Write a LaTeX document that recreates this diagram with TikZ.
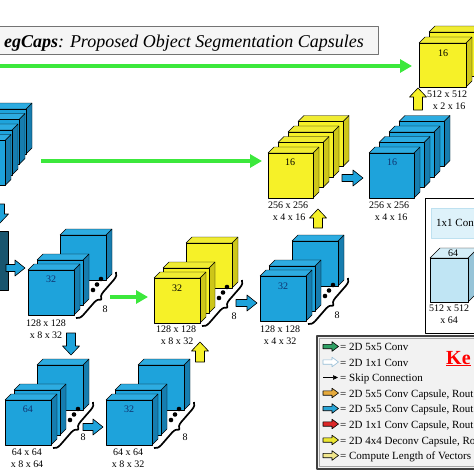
\documentclass[tikz,border=0pt]{standalone}
\usepackage{fontspec}
\setmainfont{Liberation Serif}
\usetikzlibrary{arrows.meta,decorations.pathreplacing}
\definecolor{cgreen}{RGB}{60,232,60}
\definecolor{bluefront}{RGB}{30,163,219}
\definecolor{bluetop}{RGB}{45,172,225}
\definecolor{blueside}{RGB}{22,125,175}
\definecolor{yelfront}{RGB}{246,241,40}
\definecolor{yeltop}{RGB}{240,236,50}
\definecolor{yelside}{RGB}{205,198,25}
\definecolor{lbfront}{RGB}{192,229,244}
\definecolor{lbtop}{RGB}{213,238,248}
\definecolor{lbside}{RGB}{150,196,216}
\definecolor{darkcube}{RGB}{25,85,110}
\definecolor{numblue}{RGB}{15,50,110}
\definecolor{kgreen}{RGB}{46,160,100}
\definecolor{korange}{RGB}{230,170,60}
\definecolor{kblue}{RGB}{40,165,215}
\definecolor{kred}{RGB}{220,40,40}
\definecolor{kyellow}{RGB}{235,230,50}
\definecolor{kpale}{RGB}{240,230,140}
\definecolor{klight}{RGB}{150,190,215}
\definecolor{conbox}{RGB}{222,242,250}
\definecolor{conboxline}{RGB}{190,225,240}

% cube: x, y (front top-left), w, h, depth, colour prefix
\newcommand{\mycube}[6]{%
  \filldraw[fill=#6side] ({#1+#3},{#2}) -- ++(#5,-#5) -- ++(0,#4) -- ++(-#5,#5) -- cycle;
  \filldraw[fill=#6top] ({#1},{#2}) -- ++(#5,-#5) -- ++(#3,0) -- ++(-#5,#5) -- cycle;
  \filldraw[fill=#6front] ({#1},{#2}) rectangle ++(#3,#4);
}
% stack of four cubes, front cube at x,y
\newcommand{\fourstack}[3]{%
  \foreach \i in {3,2,1,0} {\mycube{#1+10*\i}{#2-10.5*\i}{45}{45}{6}{#3}}
}
% front pair + back cube with dots and brace
\newcommand{\threestack}[3]{%
  \mycube{#1+32}{#2-35}{46}{45}{6}{#3}
  \mycube{#1+9}{#2-10}{46}{45}{6}{#3}
  \mycube{#1}{#2}{46}{45}{6}{#3}
  \fill ({#1+65},{#2+20}) circle[radius=2.3pt];
  \fill ({#1+69},{#2+14.5}) circle[radius=2.3pt];
  \fill ({#1+73},{#2+9}) circle[radius=2.3pt];
  \draw[decorate,decoration={brace,amplitude=7pt,mirror},line width=1.7pt] ({#1+48},{#2+48}) -- ({#1+88},{#2+2});
}
% block arrows
\newcommand{\rarrow}[4]{%
  \filldraw[fill=#4,line width=0.6pt] ({#1},{#3-3.5}) -- ({#2-10},{#3-3.5}) -- ({#2-10},{#3-8}) -- ({#2},{#3}) -- ({#2-10},{#3+8}) -- ({#2-10},{#3+3.5}) -- ({#1},{#3+3.5}) -- cycle;
}
\newcommand{\uarrow}[4]{% x, ybottom, ytop
  \filldraw[fill=#4,line width=0.6pt] ({#1-4.5},{#2}) -- ({#1-4.5},{#3+9}) -- ({#1-8.5},{#3+9}) -- ({#1},{#3}) -- ({#1+8.5},{#3+9}) -- ({#1+4.5},{#3+9}) -- ({#1+4.5},{#2}) -- cycle;
}
\newcommand{\darrow}[4]{% x, ytop, ybottom
  \filldraw[fill=#4,line width=0.6pt] ({#1-4.5},{#2}) -- ({#1-4.5},{#3-9}) -- ({#1-8.5},{#3-9}) -- ({#1},{#3}) -- ({#1+8.5},{#3-9}) -- ({#1+4.5},{#3-9}) -- ({#1+4.5},{#2}) -- cycle;
}
\newcommand{\karrow}[3]{% y, fill, draw
  \filldraw[fill=#2,draw=#3,line width=0.6pt] (323,{#1-2.2}) -- (332,{#1-2.2}) -- (332,{#1-4.8}) -- (338.5,{#1}) -- (332,{#1+4.8}) -- (332,{#1+2.2}) -- (323,{#1+2.2}) -- cycle;
}

\tikzset{
  lbl/.style={font=\fontsize{10}{12}\selectfont,inner sep=0pt},
  num/.style={font=\fontsize{10}{12}\selectfont,inner sep=0pt},
  keytxt/.style={font=\fontsize{11}{13}\selectfont,anchor=base west,inner sep=0pt},
  garrow/.style={draw=cgreen,line width=3.5pt,-{Triangle[length=12pt,width=13pt]}},
}

\begin{document}
\begin{tikzpicture}[x=1pt,y=-1pt,line join=round]
\useasboundingbox (0,0) rectangle (474,474);
\clip (0,0) rectangle (474,474);

% ---------- title ----------
\draw[fill=black!4,draw=black!55,line width=0.8pt] (-5,26) rectangle (378,54);
\node[anchor=base east,font=\fontsize{18}{20}\selectfont\itshape,inner sep=0pt] (title) at (364,47) {\textbf{egCaps}: Proposed Object Segmentation Capsules};

% ---------- top-left stack ----------
\foreach \i in {0,1,2,3} {\mycube{-19-7*\i}{109+10.5*\i}{45}{45}{6}{blue}}

% ---------- left partial pieces ----------
\darrow{0}{204}{223}{bluefront}
\filldraw[fill=darkcube] (-2,231) rectangle (8,290);
\rarrow{6}{25}{268}{bluefront}

% ---------- stack 128x128x8x32 ----------
\threestack{28}{270}{blue}
\node[num,text=numblue] (n1) at (51,279) {32};
\node[lbl] (l1a) at (46,323) {128 x 128};
\node[lbl] (l1b) at (46,335) {x 8 x 32};
\node[lbl] (e1) at (105,309) {8};

% down arrow
\darrow{71}{333}{355}{bluefront}

% ---------- stack 64x64x8x64 ----------
\threestack{5}{400}{blue}
\node[num,text=numblue] (n2) at (28,409) {64};
\node[lbl] (l2a) at (27,452) {64 x 64};
\node[lbl] (l2b) at (27,464) {x 8 x 64};
\node[lbl] (e2) at (83,437) {8};

\rarrow{83}{103}{427}{bluefront}

% ---------- stack 64x64x8x32 ----------
\threestack{106}{400}{blue}
\node[num,text=numblue] (n3) at (129,409) {32};
\node[lbl] (l3a) at (128,452) {64 x 64};
\node[lbl] (l3b) at (128,464) {x 8 x 32};
\node[lbl] (e3) at (185,437) {8};

% up arrow to yellow 128
\uarrow{200}{362}{342}{yelfront}

% ---------- yellow 128x128x8x32 ----------
\threestack{154}{278}{yel}
\node[num] (n4) at (177,288) {32};
\node[lbl] (l4a) at (176,329) {128 x 128};
\node[lbl] (l4b) at (177,341) {x 8 x 32};
\node[lbl] (e4) at (234,316) {8};

\coordinate (g3s) at (110,297);
\coordinate (g3e) at (148,297);
\draw[garrow] (g3s) -- (g3e);

\rarrow{236}{257}{303}{bluefront}

% ---------- blue 128x128x4x32 ----------
\threestack{260}{276}{blue}
\node[num,text=numblue] (n5) at (283,286) {32};
\node[lbl] (l5a) at (280,329) {128 x 128};
\node[lbl] (l5b) at (280,341) {x 4 x 32};
\node[lbl] (e5) at (337,315) {8};

% up arrow to yellow 256
\uarrow{318}{228}{209}{yelfront}

% ---------- yellow 256 ----------
\fourstack{268}{153}{yel}
\node[num] (n6) at (290,162) {16};
\node[lbl] (l6a) at (288,205) {256 x 256};
\node[lbl] (l6b) at (289,217) {x 4 x 16};

\rarrow{342}{363}{178}{bluefront}

% ---------- blue 256 ----------
\fourstack{369}{153}{blue}
\node[num,text=numblue] (n7) at (392,162) {16};
\node[lbl] (l7a) at (389,205) {256 x 256};
\node[lbl] (l7b) at (391,217) {x 4 x 16};

% ---------- top-right yellow ----------
\mycube{429}{32}{47}{44}{6}{yel}
\mycube{419}{43}{47}{44}{6}{yel}
\node[num] (n8) at (443,53) {16};
\node[lbl] (l8a) at (447,94) {512 x 512};
\node[lbl] (l8b) at (449,106) {x 2 x 16};
\uarrow{418}{110}{88}{yelfront}

% ---------- green skip arrows ----------
\coordinate (g1s) at (-2,66);
\coordinate (g1e) at (412,66);
\draw[garrow] (g1s) -- (g1e);
\coordinate (g2s) at (41,161);
\coordinate (g2e) at (262,161);
\draw[garrow] (g2s) -- (g2e);

% ---------- right panel ----------
\draw[fill=white,line width=0.8pt] (425,198) rectangle (480,333);
\draw[fill=conbox,draw=conboxline,line width=0.8pt] (431,208) rectangle (480,238);
\node[anchor=base west,font=\fontsize{11}{13}\selectfont,inner sep=0pt] (conv) at (436,226) {1x1 Con};
\mycube{430}{258}{38}{44}{10}{lb}
\node[num] (n9) at (453,253) {64};
\node[lbl] (l9a) at (449,308) {512 x 512};
\node[lbl] (l9b) at (449,320) {x 64};

% ---------- key ----------
\draw[fill=black!5,draw=black!75,line width=1.6pt] (317,336) rectangle (480,469);
\draw[draw=black!35,line width=0.6pt] (319.5,338.5) rectangle (480,466.5);
\node[anchor=base west,text=red,font=\fontsize{20}{24}\selectfont\bfseries,inner sep=0pt] (key) at (446,364) {\underline{Ke}};

\karrow{346.5}{kgreen}{black}
\node[keytxt] (k1) at (340,350.5) {= 2D 5x5 Conv};
\karrow{362}{white}{klight}
\node[keytxt] (k2) at (340,366) {= 2D 1x1 Conv};
\draw[line width=0.5pt,-{Triangle[length=5pt,width=4.5pt]}] (323,377.5) -- (338,377.5);
\node[keytxt] (k3) at (340,381.5) {= Skip Connection};
\karrow{393}{korange}{black}
\node[keytxt] (k4) at (340,397) {= 2D 5x5 Conv Capsule, Rout};
\karrow{408.5}{kblue}{black}
\node[keytxt] (k5) at (340,412.5) {= 2D 5x5 Conv Capsule, Rout};
\karrow{424}{kred}{black}
\node[keytxt] (k6) at (340,428) {= 2D 1x1 Conv Capsule, Rout};
\karrow{440}{kyellow}{black}
\node[keytxt] (k7) at (340,444) {= 2D 4x4 Deconv Capsule, Ro};
\karrow{455.5}{kpale}{black}
\node[keytxt] (k8) at (340,459.5) {= Compute Length of Vectors};
\end{tikzpicture}
\end{document}
